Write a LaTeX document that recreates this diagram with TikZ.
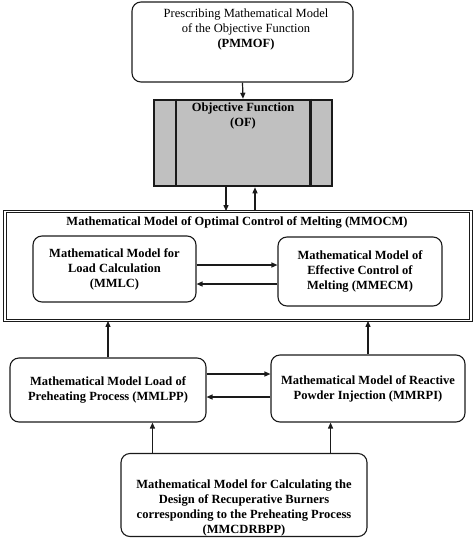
\documentclass[tikz,border=0pt]{standalone}
\usepackage{fontspec}
\setmainfont{Liberation Serif}
\usepackage{xcolor}
\usepackage{tikz}
\usetikzlibrary{arrows.meta,calc}
\definecolor{inkline}{HTML}{1A1A1A}
\definecolor{ofgray}{HTML}{C0C0C0}

\begin{document}
\begin{tikzpicture}[
  x=1pt, y=-1pt,
  box/.style={draw=inkline, rounded corners=9pt, line width=1.1pt, inner sep=0pt, align=center, font=\fontsize{12.5}{15}\selectfont\bfseries},
  txt/.style={inner sep=0pt, align=center, font=\fontsize{12.5}{15}\selectfont\bfseries},
  arr/.style={draw=inkline, line width=1.2pt, -{Triangle[length=6pt,width=5pt]}}
]
\useasboundingbox (0,0) rectangle (474,539);

% PMMOF (top)
\node[box, minimum width=221pt, minimum height=80pt] (pmmof) at (242.5,42) {};
\node[txt, font=\fontsize{12.5}{15}\selectfont] (pmmoftxt) at (246,29) {Prescribing Mathematical Model\\of the Objective Function\\\textbf{(PMMOF)}};

% OF (grey block)
\node[draw=inkline, fill=ofgray, line width=2.5pt, minimum width=178pt, minimum height=86pt, inner sep=0pt] (of) at (243,143) {};
\draw[inkline, line width=2.5pt] ($(of.north west)+(23,0)$) -- ($(of.south west)+(23,0)$);
\draw[inkline, line width=2.5pt] ($(of.north east)+(-23,0)$) -- ($(of.south east)+(-23,0)$);
\node[txt] (oftxt) at (243,116) {Objective Function\\(OF)};
\draw[arr] (pmmof.south) -- (of.north);

% MMOCM (double frame)
\node[draw=inkline, double, double distance=1.6pt, line width=0.9pt, minimum width=466pt, minimum height=109pt, inner sep=0pt] (mmocm) at (238,266) {};
\node[txt] (mmocmtxt) at (237,222) {Mathematical Model of Optimal Control of Melting (MMOCM)};
\coordinate (ofdn) at ($(of.south)+(-17,0)$);
\coordinate (ofup) at ($(of.south)+(12,0)$);
\draw[arr] (ofdn) -- (ofdn |- mmocm.north);
\draw[arr] (ofup |- mmocm.north) -- (ofup);

\node[box, minimum width=163pt, minimum height=66pt] (mmlc) at (114.5,269) {Mathematical Model for\\Load Calculation\\(MMLC)};
\node[box, minimum width=164pt, minimum height=69pt] (mmecm) at (360,271.5) {Mathematical Model of\\Effective Control of\\Melting (MMECM)};
\draw[arr] ([yshift=4pt]mmlc.east) -- ([yshift=4pt]mmlc.east -| mmecm.west);
\draw[arr] ([yshift=-15pt]mmlc.east -| mmecm.west) -- ([yshift=-15pt]mmlc.east);

% MMLPP / MMRPI
\node[box, minimum width=196pt, minimum height=64pt] (mmlpp) at (108,390) {Mathematical Model Load of\\Preheating Process (MMLPP)};
\node[box, minimum width=194pt, minimum height=67pt] (mmrpi) at (368,388.5) {Mathematical Model of Reactive\\Powder Injection (MMRPI)};
\draw[arr] ([yshift=16pt]mmlpp.east) -- ([yshift=16pt]mmlpp.east -| mmrpi.west);
\draw[arr] ([yshift=-7pt]mmlpp.east -| mmrpi.west) -- ([yshift=-7pt]mmlpp.east);
\draw[arr] (mmlpp.north) -- (mmlpp.north |- mmocm.south);
\draw[arr] (mmrpi.north) -- (mmrpi.north |- mmocm.south);

% MMCDRBPP (bottom)
\node[box, minimum width=246pt, minimum height=83pt] (mmcd) at (244,495) {};
\node[txt] (mmcdtxt) at (244,508) {Mathematical Model for Calculating the\\Design of Recuperative Burners\\corresponding to the Preheating Process\\(MMCDRBPP)};
\coordinate (cdl) at ($(mmcd.north west)+(32,0)$);
\coordinate (cdr) at ($(mmcd.north east)+(-37,0)$);
\draw[arr] (cdl) -- (cdl |- mmlpp.south);
\draw[arr] (cdr) -- (cdr |- mmrpi.south);
\end{tikzpicture}
\end{document}
